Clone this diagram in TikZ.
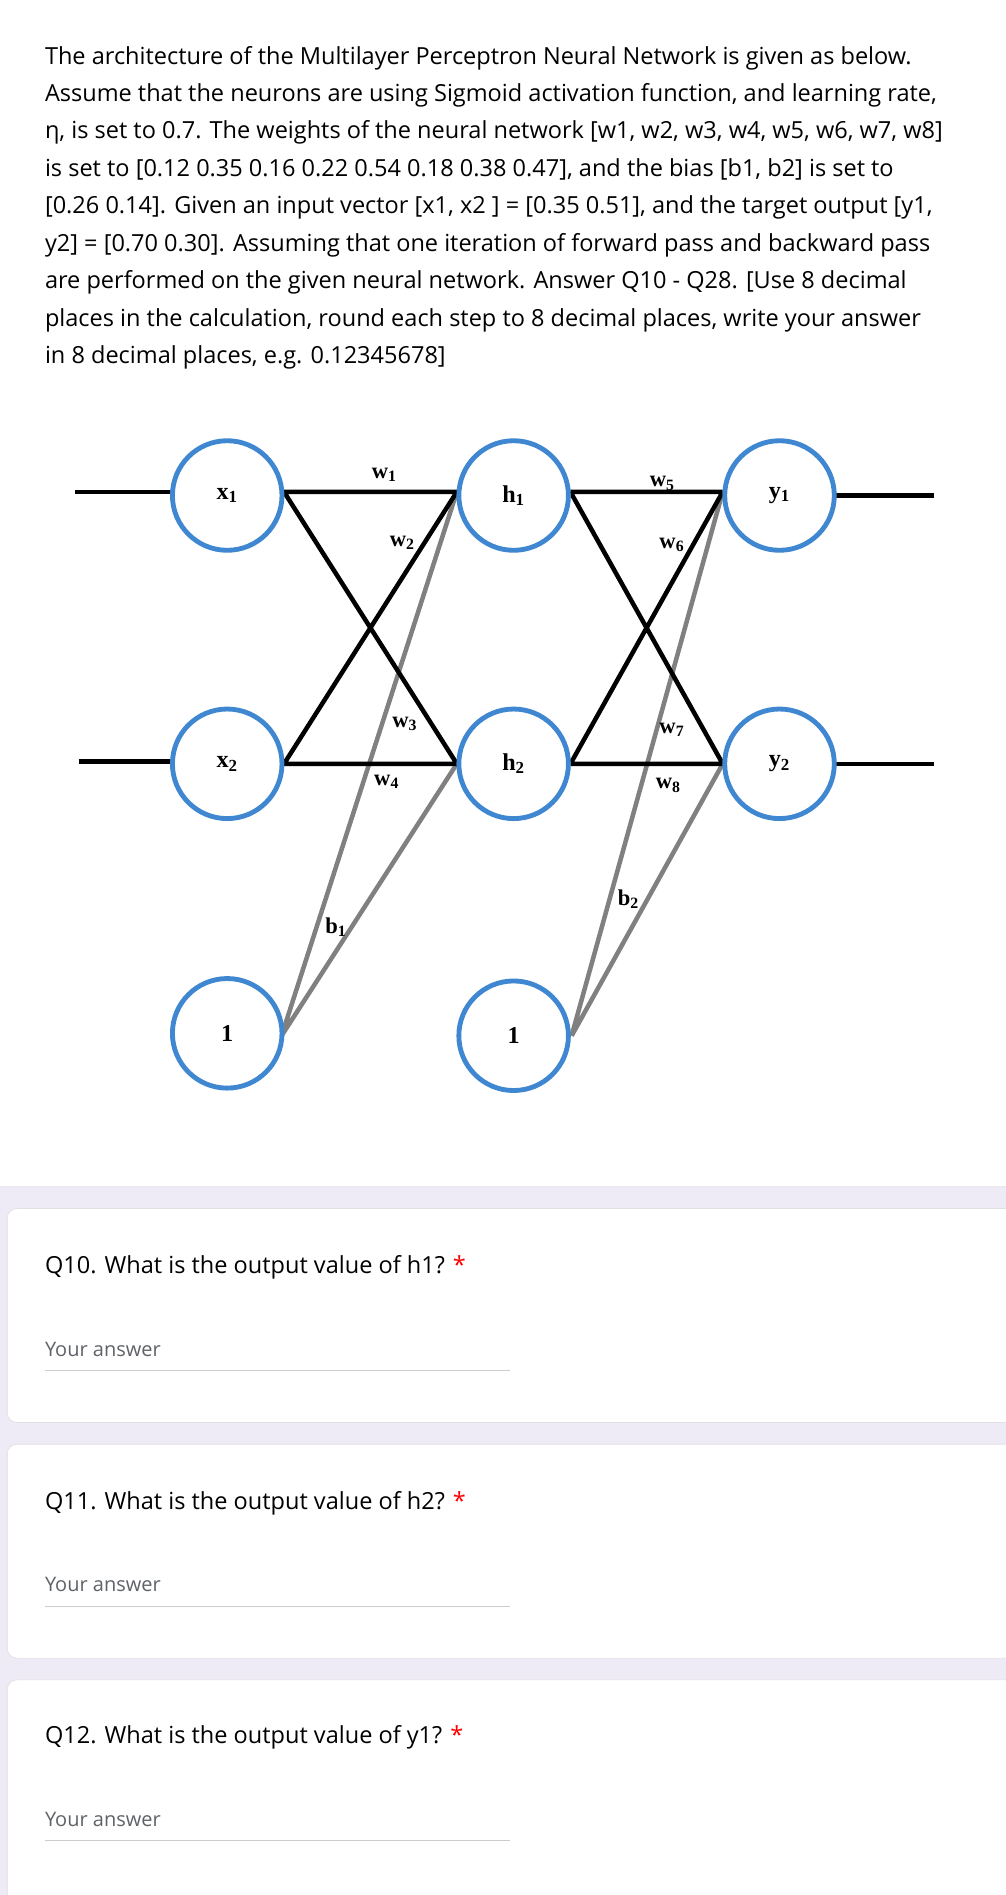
\documentclass[tikz,border=0pt]{standalone}
\usepackage{fontspec}
\setmainfont{Open Sans}
\newfontfamily\serf{Liberation Serif}
\definecolor{bg}{HTML}{EEEAF6}
\definecolor{neur}{HTML}{3F87D0}
\definecolor{gr}{HTML}{808080}
\definecolor{hint}{HTML}{5F6368}
\begin{document}
\begin{tikzpicture}[x=0.75pt,y=-0.75pt,
  para/.style={anchor=base west,inner sep=0,font=\fontsize{14.6}{16}\selectfont},
  neuron/.style={circle,draw=neur,line width=3pt,minimum size=68pt,fill=white,font=\serf\bfseries\fontsize{15}{18}\selectfont,inner sep=0},
  lbl/.style={font=\serf\bfseries\fontsize{14}{16}\selectfont,inner sep=1pt},
  blk/.style={line width=2.8pt,black},
  gry/.style={line width=2.8pt,gr},
  card/.style={fill=white,draw=black!12,rounded corners=6pt},
  q/.style={anchor=base west,inner sep=0,font=\fontsize{14.6}{16}\selectfont},
  ans/.style={anchor=base west,inner sep=0,text=hint,font=\fontsize{12.4}{14}\selectfont}]
\useasboundingbox (0,0) rectangle (832,1568);
\fill[bg] (0,0) rectangle (832,1568);
\draw[card] (-10,-10) rectangle (845,982);
\draw[card] (6,1000) rectangle (845,1177);
\draw[card] (6,1195) rectangle (845,1372);
\draw[card] (6,1390) rectangle (845,1578);
% paragraph
\node[para] (t1) at (37,53) {The architecture of the Multilayer Perceptron Neural Network is given as below.};
\node[para] (t2) at (37,84) {Assume that the neurons are using Sigmoid activation function, and learning rate,};
\node[para] (t3) at (37,115) {η, is set to 0.7. The weights of the neural network [w1, w2, w3, w4, w5, w6, w7, w8]};
\node[para] (t4) at (37,146) {is set to [0.12 0.35 0.16 0.22 0.54 0.18 0.38 0.47], and the bias [b1, b2] is set to};
\node[para] (t5) at (37,177) {[0.26 0.14]. Given an input vector [x1, x2 ] = [0.35 0.51], and the target output [y1,};
\node[para] (t6) at (37,208) {y2] = [0.70 0.30]. Assuming that one iteration of forward pass and backward pass};
\node[para] (t7) at (37,239) {are performed on the given neural network. Answer Q10 - Q28. [Use 8 decimal};
\node[para] (t8) at (37,270) {places in the calculation, round each step to 8 decimal places, write your answer};
\node[para] (t9) at (37,301) {in 8 decimal places, e.g. 0.12345678]};
% connectors
\coordinate (a1) at (235,407); \coordinate (a2) at (378,407);
\coordinate (a3) at (235,632); \coordinate (a4) at (378,632);
\coordinate (c1) at (472,407); \coordinate (c2) at (598,407);
\coordinate (c3) at (472,632); \coordinate (c4) at (598,632);
\coordinate (bb1) at (233,857); \coordinate (bb2) at (473,857);
\coordinate (in1) at (62,407); \coordinate (in2) at (65,630);
\coordinate (o1) at (773,410); \coordinate (o2) at (773,632);
\draw[gry] (bb1) -- (a2) (bb1) -- (a4) (bb2) -- (c2) (bb2) -- (c4);
\draw[blk] (in1) -- (145,407) (in2) -- (145,630) (690,410) -- (o1) (690,632) -- (o2);
\draw[blk] (a1) -- (a2) (a1) -- (a4) (a3) -- (a2) (a3) -- (a4);
\draw[blk] (c1) -- (c2) (c1) -- (c4) (c3) -- (c2) (c3) -- (c4);
% neurons
\node[neuron] (x1) at (188,410) {x\textsubscript{1}};
\node[neuron] (x2) at (188,632) {x\textsubscript{2}};
\node[neuron] (one1) at (188,855) {1};
\node[neuron] (h1) at (425,410) {h\textsubscript{1}};
\node[neuron] (h2) at (425,632) {h\textsubscript{2}};
\node[neuron] (one2) at (425,857) {1};
\node[neuron] (y1) at (645,410) {y\textsubscript{1}};
\node[neuron] (y2) at (645,632) {y\textsubscript{2}};
% labels
\node[lbl] (lw1) at (318,393) {w\textsubscript{1}};
\node[lbl] (lw2) at (333,449) {w\textsubscript{2}};
\node[lbl] (lw3) at (335,599) {w\textsubscript{3}};
\node[lbl] (lw4) at (320,647) {w\textsubscript{4}};
\node[lbl] (lb1) at (278,767) {b\textsubscript{1}};
\node[lbl] (lw5) at (548,400) {w\textsubscript{5}};
\node[lbl] (lw6) at (556,451) {w\textsubscript{6}};
\node[lbl] (lw7) at (556,604) {w\textsubscript{7}};
\node[lbl] (lw8) at (553,650) {w\textsubscript{8}};
\node[lbl] (lb2) at (520,744) {b\textsubscript{2}};
% questions
\node[q] (q10) at (37,1054) {Q10. What is the output value of h1? \textcolor{red}{*}};
\node[ans] (a10) at (37,1122) {Your answer};
\draw[black!20] (37,1134) -- (422,1134);
\node[q] (q11) at (37,1249) {Q11. What is the output value of h2? \textcolor{red}{*}};
\node[ans] (a11) at (37,1317) {Your answer};
\draw[black!20] (37,1329) -- (422,1329);
\node[q] (q12) at (37,1443) {Q12. What is the output value of y1? \textcolor{red}{*}};
\node[ans] (a12) at (37,1511) {Your answer};
\draw[black!20] (37,1523) -- (422,1523);
\end{tikzpicture}
\end{document}
